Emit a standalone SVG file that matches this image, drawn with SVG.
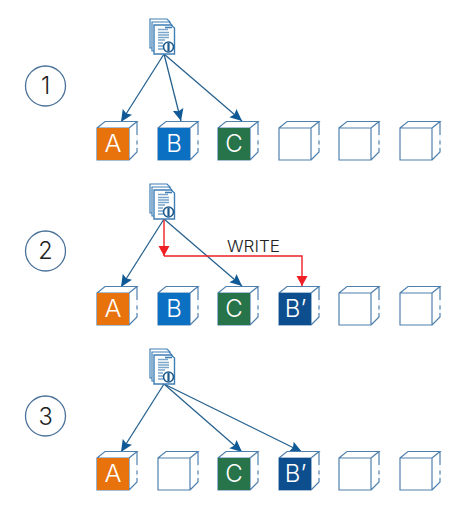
<svg xmlns="http://www.w3.org/2000/svg" width="474" height="510" viewBox="0 0 474 510">
<style>
text{font-family:"Inter","Liberation Sans",sans-serif;}
.lab{font-size:24px;fill:#fff;text-anchor:middle;font-weight:300}
.num{font-size:23.5px;fill:#222;text-anchor:middle;font-weight:300}
.step{fill:#fff;stroke:#4a7199;stroke-width:1.3}
.conn{fill:none;stroke:#27628f;stroke-width:1.3}
.red{fill:none;stroke:#f01f25;stroke-width:1.4}
</style>
<defs>
<marker id="ab" markerUnits="userSpaceOnUse" markerWidth="13" markerHeight="12" refX="12" refY="6" orient="auto"><path d="M0 0.5L12 6L0 11.5L2 6Z" fill="#0f5a96"/></marker>
<marker id="ar" markerUnits="userSpaceOnUse" markerWidth="11" markerHeight="12" refX="10" refY="6" orient="auto"><path d="M0 0.5L10 6L0 11.5Z" fill="#f01f25"/></marker>
<g id="cube">
<path d="M0 0V32H32V0ZM0 0L8-6.5H40L32 0M40-6.5V24L32 32" fill="#fff" stroke="#4f80ad" stroke-width="1.2"/>
<path d="M40 7V12.5M40 16.5V20" stroke="#fff" stroke-width="1.8"/>
</g>
<g id="doc" fill="#fff" stroke="#3f7fb5" stroke-width="1.2">
<path d="M0-35H17L20-32V-6H0Z"/>
<path d="M2-32H19L22-29V-3H2Z"/>
<path d="M4-29H21L24.500-26V0H4Z" stroke-width="1.4"/>
<path d="M8-24.500H18M8-21.500H19M8-19H19M8-16.500H19M8-14H15M8-11H13M8-8H13M8-5H13" stroke="#7ba6cc" stroke-width="1.7"/>
<path d="M15-26.500H22" stroke="#3f7fb5" stroke-width="1.6"/>
<circle cx="18.500" cy="-7" r="5" stroke="#1f5a8c" stroke-width="1.6"/>
<path d="M18.500-11V-3" stroke="#1f5a8c" stroke-width="2.2"/>
</g>
</defs>
<g id="connectors">
<path class="conn" marker-end="url(#ab)" d="M164 54L121 122"/>
<path class="conn" marker-end="url(#ab)" d="M164 54L181 121"/>
<path class="conn" marker-end="url(#ab)" d="M164 54L242 121"/>
<path class="conn" marker-end="url(#ab)" d="M164 219L121 287"/>
<path class="conn" marker-end="url(#ab)" d="M164 219L242 286"/>
<path class="red" marker-end="url(#ar)" d="M164 219V256"/>
<path class="red" marker-end="url(#ar)" d="M164 256H302V286"/>
<path class="conn" marker-end="url(#ab)" d="M164 384L121 452"/>
<path class="conn" marker-end="url(#ab)" d="M164 384L242 452"/>
<path class="conn" marker-end="url(#ab)" d="M164 384L302 452"/>
</g>
<g id="step1"><circle class="step" cx="45.500" cy="86" r="20"/><text class="num" x="45.500" y="94">1</text></g>
<g id="step2"><circle class="step" cx="45.500" cy="251" r="20"/><text class="num" x="45.500" y="259">2</text></g>
<g id="step3"><circle class="step" cx="45.500" cy="416" r="20"/><text class="num" x="45.500" y="424.500">3</text></g>
<g id="doc1"><use href="#doc" x="150" y="54"/></g>
<g id="doc2"><use href="#doc" x="150" y="219"/></g>
<g id="doc3"><use href="#doc" x="150" y="384"/></g>
<g id="row1">
<g id="r1a"><use href="#cube" x="97" y="128"/><rect x="97" y="128" width="32" height="32" fill="#e8720c"/><text class="lab" x="113" y="152" textLength="17" lengthAdjust="spacingAndGlyphs">A</text></g>
<g id="r1b"><use href="#cube" x="158" y="128"/><rect x="158" y="128" width="32" height="32" fill="#0b6fc2"/><text class="lab" x="174" y="152">B</text></g>
<g id="r1c"><use href="#cube" x="218" y="128"/><rect x="218" y="128" width="32" height="32" fill="#27734a"/><text class="lab" x="234" y="152">C</text></g>
<g id="r1d"><use href="#cube" x="279" y="128"/></g>
<g id="r1e"><use href="#cube" x="339" y="128"/></g>
<g id="r1f"><use href="#cube" x="400" y="128"/></g>
</g>
<g id="row2">
<g id="r2a"><use href="#cube" x="97" y="293"/><rect x="97" y="293" width="32" height="32" fill="#e8720c"/><text class="lab" x="113" y="317" textLength="17" lengthAdjust="spacingAndGlyphs">A</text></g>
<g id="r2b"><use href="#cube" x="158" y="293"/><rect x="158" y="293" width="32" height="32" fill="#0b6fc2"/><text class="lab" x="174" y="317">B</text></g>
<g id="r2c"><use href="#cube" x="218" y="293"/><rect x="218" y="293" width="32" height="32" fill="#27734a"/><text class="lab" x="234" y="317">C</text></g>
<g id="r2d"><use href="#cube" x="279" y="293"/><rect x="279" y="293" width="32" height="32" fill="#0d4f8e"/><text class="lab" x="295.500" y="317">B’</text></g>
<g id="r2e"><use href="#cube" x="339" y="293"/></g>
<g id="r2f"><use href="#cube" x="400" y="293"/></g>
</g>
<g id="row3">
<g id="r3a"><use href="#cube" x="97" y="458"/><rect x="97" y="458" width="32" height="32" fill="#e8720c"/><text class="lab" x="113" y="482" textLength="17" lengthAdjust="spacingAndGlyphs">A</text></g>
<g id="r3b"><use href="#cube" x="158" y="458"/></g>
<g id="r3c"><use href="#cube" x="218" y="458"/><rect x="218" y="458" width="32" height="32" fill="#27734a"/><text class="lab" x="234" y="482">C</text></g>
<g id="r3d"><use href="#cube" x="279" y="458"/><rect x="279" y="458" width="32" height="32" fill="#0d4f8e"/><text class="lab" x="295.500" y="482">B’</text></g>
<g id="r3e"><use href="#cube" x="339" y="458"/></g>
<g id="r3f"><use href="#cube" x="400" y="458"/></g>
</g>
<text x="227" y="252" font-size="15.5" fill="#222" font-weight="300" textLength="53" lengthAdjust="spacingAndGlyphs">WRITE</text>
</svg>
